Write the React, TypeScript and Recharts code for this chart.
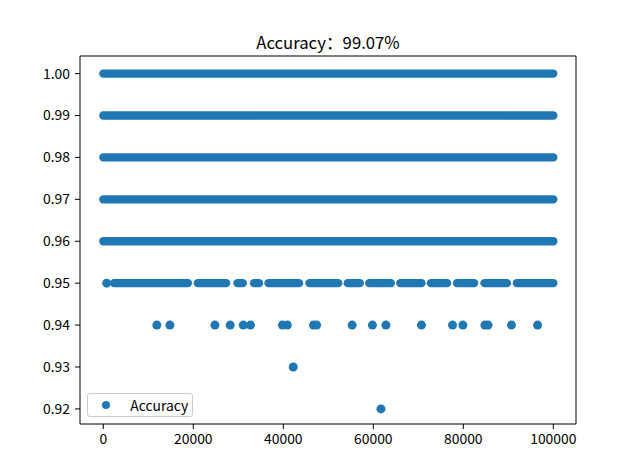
import { ScatterChart, Scatter, XAxis, YAxis, ZAxis, ReferenceLine } from "recharts"

const BLUE = "#1f77b4"
const FONT = "'Noto Sans CJK SC', 'DejaVu Sans', sans-serif"

// rows where every step hit the value (drawn as one continuous band of dots)
const fullRows = [1.0, 0.99, 0.98, 0.97, 0.96]
const fullRowRange = [0, 100000]

// 0.95: runs of overlapping dots, plus lone dots
const runs095 = [
  [2400, 18800], [21000, 27300], [29800, 31000], [33500, 34600], [36700, 43500],
  [45800, 52200], [54300, 57000], [59100, 63900], [66000, 70700], [72800, 76400],
  [78600, 82400], [84700, 89700], [91900, 100000],
]
const dots095 = [750]
const dots094 = [
  11900, 14800, 24800, 28200, 31100, 32700, 39800, 40900, 46700, 47400,
  55300, 59800, 62800, 70700, 77600, 79900, 84800, 85500, 90700, 96500,
]
const dots093 = [42200]
const dots092 = [61700]

const xTicks = [0, 20000, 40000, 60000, 80000, 100000]
const yTicks = [0.92, 0.93, 0.94, 0.95, 0.96, 0.97, 0.98, 0.99, 1.0]

const points = [
  ...dots095.map((x) => ({ x, y: 0.95 })),
  ...dots094.map((x) => ({ x, y: 0.94 })),
  ...dots093.map((x) => ({ x, y: 0.93 })),
  ...dots092.map((x) => ({ x, y: 0.92 })),
]

const segments = [
  ...fullRows.map((y) => [fullRowRange[0], fullRowRange[1], y]),
  ...runs095.map(([a, b]) => [a, b, 0.95]),
]

const xDomain = [-5180, 105040]
const yDomain = [0.9164, 1.0042]
const tickStyle = { fill: "#000", fontSize: 13.9, fontFamily: FONT }

function LegendBox() {
  return (
    <div
      style={{
        position: "absolute",
        left: 87,
        top: 393,
        width: 106,
        height: 24,
        border: "1px solid #cccccc",
        borderRadius: 3,
        background: "rgba(255,255,255,0.8)",
        display: "flex",
        alignItems: "center",
        fontFamily: FONT,
        fontSize: 13.9,
        color: "#000",
        boxSizing: "border-box",
      }}
    >
      <span
        style={{
          display: "inline-block",
          width: 8.3,
          height: 8.3,
          borderRadius: "50%",
          background: BLUE,
          marginLeft: 14,
          marginRight: 20,
        }}
      />
      <span>Accuracy</span>
    </div>
  )
}

export default function App() {
  return (
    <div style={{ position: "absolute", left: 0, top: 0, width: 640, height: 476, background: "#fff" }}>
      <div
        style={{
          position: "absolute",
          left: 80,
          width: 496,
          top: 32,
          textAlign: "center",
          fontFamily: FONT,
          fontSize: 16.7,
          lineHeight: "20px",
          color: "#000",
        }}
      >
        Accuracy：99.07%
      </div>
      <ScatterChart width={640} height={476} margin={{ top: 56, right: 64, bottom: 22, left: 40 }}>
        <XAxis
          dataKey="x"
          type="number"
          domain={xDomain}
          ticks={xTicks}
          allowDataOverflow
          height={30}
          tickSize={5}
          tickMargin={5}
          stroke="#000"
          tick={tickStyle}
        />
        <YAxis
          dataKey="y"
          type="number"
          domain={yDomain}
          ticks={yTicks}
          allowDataOverflow
          width={40}
          tickSize={5}
          tickMargin={5}
          stroke="#000"
          tick={tickStyle}
          tickFormatter={(v: number) => v.toFixed(2)}
        />
        <ZAxis range={[54, 54]} />
        {segments.map(([a, b, y], i) => (
          <ReferenceLine
            key={i}
            segment={[{ x: a, y }, { x: b, y }]}
            stroke={BLUE}
            strokeWidth={8.3}
            strokeLinecap="round"
          />
        ))}
        <Scatter name="Accuracy" data={points} fill={BLUE} isAnimationActive={false} />
        {/* top and right spines */}
        <ReferenceLine y={yDomain[1]} stroke="#000" strokeWidth={1} ifOverflow="visible" />
        <ReferenceLine x={xDomain[1]} stroke="#000" strokeWidth={1} ifOverflow="visible" />
      </ScatterChart>
      <LegendBox />
    </div>
  )
}
